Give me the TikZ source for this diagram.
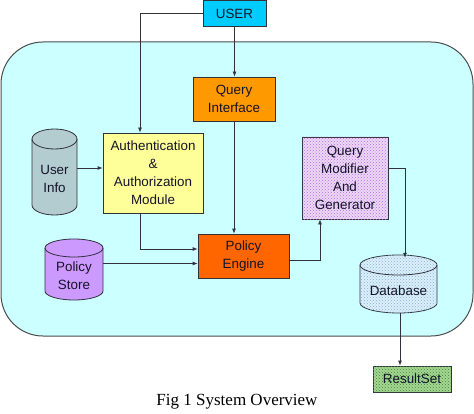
\documentclass[tikz,border=0pt]{standalone}
\usepackage{fontspec}
\setmainfont{Liberation Sans}
\newfontfamily\capfont{Liberation Serif}
\usetikzlibrary{arrows.meta,patterns}
\definecolor{bgc}{RGB}{204,255,255}
\definecolor{userc}{RGB}{0,204,255}
\definecolor{qic}{RGB}{255,153,0}
\definecolor{authc}{RGB}{255,255,153}
\definecolor{pec}{RGB}{255,102,0}
\definecolor{qmc}{RGB}{236,215,246}
\definecolor{qmdot}{RGB}{180,110,220}
\definecolor{dbc}{RGB}{220,240,252}
\definecolor{dbdot}{RGB}{130,175,210}
\definecolor{rsc}{RGB}{165,215,145}
\definecolor{rsdot}{RGB}{60,135,60}
\definecolor{uic}{RGB}{178,204,208}
\definecolor{psc}{RGB}{204,153,255}
\definecolor{linec}{RGB}{50,50,60}
\definecolor{txtc}{RGB}{20,20,40}
\newcommand\mycyl[8]{%
  \pgfmathsetmacro\cx{(#2+#3)/2}%
  \pgfmathsetmacro\rx{(#3-#2)/2}%
  \pgfmathsetmacro\cy{(#4+#5)/2}%
  \pgfmathsetmacro\ty{(#4-#6+#5)/2-2}%
  \pgfmathsetmacro\ww{#3-#2}%
  \pgfmathsetmacro\hh{#4-#5}%
  \filldraw[boxline,#7] (#2,#4-#6) -- (#2,#5+#6)
    arc[start angle=180,end angle=360,x radius=\rx,y radius=#6]
    -- (#3,#4-#6)
    arc[start angle=0,end angle=180,x radius=\rx,y radius=#6] -- cycle;
  \draw[boxline] (#2,#4-#6) arc[start angle=180,end angle=360,x radius=\rx,y radius=#6];
  \node[inner sep=0pt,minimum width=\ww pt,minimum height=\hh pt] (#1) at (\cx,\cy) {};
  \node[txt] (#1t) at (\cx,\ty) {#8};
}
\tikzset{
  boxline/.style={draw=linec,line width=0.8pt},
  txt/.style={font=\fontsize{13.4}{18}\selectfont,text=txtc,align=center,inner sep=0pt},
  box/.style={boxline,txt,inner sep=0pt},
  conn/.style={draw=linec,line width=0.8pt,-{Latex[length=5pt,width=4pt]}},
}
\begin{document}
\begin{tikzpicture}[x=1pt,y=1pt]
\useasboundingbox (0,0) rectangle (474,413);
\draw[fill=bgc,draw=gray!60!black,line width=1pt,rounded corners=42pt] (1,77) rectangle (473,371);

\node[box,fill=userc,minimum width=63pt,minimum height=26pt] (user) at (234.5,399.5) {USER};
\node[box,fill=qic,minimum width=82pt,minimum height=44pt] (qi) at (234,314) {Query\\Interface};
\node[box,fill=authc,minimum width=100pt,minimum height=80pt] (auth) at (153,240) {Authentication\\\&\\Authorization\\Module};
\node[box,fill=pec,minimum width=91pt,minimum height=44pt] (pe) at (243.5,157) {Policy\\Engine};
\node[box,fill=qmc,postaction={pattern=crosshatch dots,pattern color=qmdot},minimum width=86pt,minimum height=82pt] (qm) at (345,235) {};
\node[txt] (qmt) at (345,235) {Query\\Modifier\\And\\Generator};
\node[box,fill=rsc,postaction={pattern=crosshatch dots,pattern color=rsdot},minimum width=78pt,minimum height=26pt] (rs) at (412,34) {};
\node[txt] (rst) at (412,34) {ResultSet};

\mycyl{ui}{32}{77}{284}{198}{10}{fill=uic}{User\\Info}
\mycyl{ps}{45}{103}{174}{113}{9}{fill=psc}{Policy\\Store}
\mycyl{db}{360}{437}{158}{100}{10}{fill=dbc,postaction={pattern=crosshatch dots,pattern color=dbdot}}{Database}

\node[font=\capfont\fontsize{17}{20}\selectfont,inner sep=0pt] (cap) at (237,11) {Fig 1 System Overview};

\draw[conn] (user.west) -| ([xshift=-13pt]auth.north);
\draw[conn] (user.south) -- (user.south |- qi.north);
\draw[conn] (qi.south) -- (qi.south |- pe.north);
\draw[conn] ([yshift=4pt]ui.east) -- ([yshift=4pt]ui.east -| auth.west);
\draw[conn] ([xshift=-13pt]auth.south) |- ([yshift=7pt]pe.west);
\draw[conn] ([yshift=6pt]ps.east) -- ([yshift=6pt]ps.east -| pe.west);
\draw[conn] ([yshift=-4pt]pe.east) -| ([xshift=-25pt]qm.south);
\draw[conn] ([yshift=10pt]qm.east) -| ([xshift=6.5pt,yshift=-3pt]db.north);
\draw[conn] ([xshift=1.5pt]db.south) -- ([xshift=1.5pt]db.south |- rs.north);
\end{tikzpicture}
\end{document}
